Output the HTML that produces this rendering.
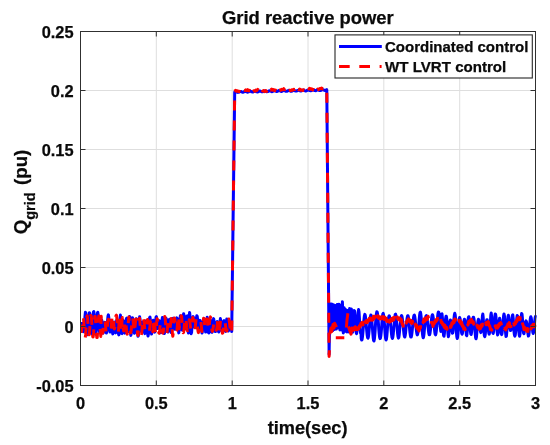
<!DOCTYPE html>
<html><head><meta charset="utf-8"><title>Grid reactive power</title>
<style>html,body{margin:0;padding:0;background:#fff}body{width:550px;height:445px;overflow:hidden}svg{display:block}text{font-family:"Liberation Sans",sans-serif;font-weight:bold;fill:#0a0a0a;stroke:#0a0a0a;stroke-width:0.25px}</style></head><body>
<svg width="550" height="445" viewBox="0 0 550 445">
<rect x="0" y="0" width="550" height="445" fill="#fff"/>
<g stroke="#dedede" stroke-width="1" fill="none"><line x1="156.3" y1="31.5" x2="156.3" y2="385.5"/><line x1="232.2" y1="31.5" x2="232.2" y2="385.5"/><line x1="308.0" y1="31.5" x2="308.0" y2="385.5"/><line x1="383.8" y1="31.5" x2="383.8" y2="385.5"/><line x1="459.7" y1="31.5" x2="459.7" y2="385.5"/><line x1="80.5" y1="326.5" x2="535.5" y2="326.5"/><line x1="80.5" y1="267.5" x2="535.5" y2="267.5"/><line x1="80.5" y1="208.5" x2="535.5" y2="208.5"/><line x1="80.5" y1="149.5" x2="535.5" y2="149.5"/><line x1="80.5" y1="90.5" x2="535.5" y2="90.5"/></g>
<clipPath id="cp"><rect x="80.5" y="31.5" width="456.2" height="354.0"/></clipPath>
<g clip-path="url(#cp)" fill="none" stroke-linejoin="round">
<polyline stroke="#0000ff" stroke-width="3.0" points="80.8,327.5 81.6,323.5 82.4,329.5 82.6,323.5 83.0,328.8 83.4,331.7 83.8,331.2 84.2,327.5 84.6,322.8 85.0,316.2 85.4,312.3 85.8,312.7 86.2,317.1 86.6,324.1 87.0,331.0 87.4,334.8 87.8,333.8 88.2,328.5 88.6,320.9 89.0,315.4 89.4,312.7 89.8,313.6 90.2,318.0 90.6,323.4 91.0,329.8 91.4,333.4 91.8,332.9 92.2,328.6 92.6,321.9 93.0,316.4 93.4,312.1 93.8,311.5 94.2,314.8 94.6,320.8 95.0,328.0 95.4,333.1 95.8,334.2 96.2,330.8 96.6,324.2 97.0,317.1 97.4,313.0 97.8,312.3 98.2,315.3 98.6,320.8 99.0,327.6 99.4,331.7 99.8,332.5 100.2,329.6 100.6,324.2 101.2,323.1 101.6,319.7 102.0,320.9 102.4,326.1 102.8,331.7 103.2,333.1 103.6,329.6 104.0,325.4 104.4,322.9 104.8,322.3 105.2,323.9 105.6,325.0 106.0,330.5 106.4,333.1 106.8,331.5 107.2,326.6 107.6,320.5 108.0,316.0 108.4,314.8 108.8,317.4 109.2,322.7 109.6,327.8 110.0,332.0 110.4,329.0 110.8,324.1 111.2,320.5 111.6,321.4 112.0,326.0 112.4,331.9 112.8,333.9 113.2,330.1 113.6,325.2 114.0,321.9 114.4,322.3 114.8,326.1 115.2,331.7 115.6,332.9 116.0,327.6 116.4,322.2 116.8,320.1 117.2,320.6 117.6,323.5 118.0,328.5 118.4,333.3 118.8,334.9 119.2,332.4 119.6,327.3 120.0,318.4 120.4,315.1 120.8,318.4 121.2,326.3 121.6,333.3 122.0,333.6 122.4,326.8 122.8,321.5 123.2,320.4 123.6,322.2 124.0,328.5 124.4,331.8 124.8,333.1 125.2,332.0 125.6,328.9 126.0,323.1 126.4,318.5 126.8,318.1 127.2,322.1 127.6,327.3 128.0,331.6 128.4,331.6 128.8,327.3 129.2,319.3 129.6,316.4 130.0,321.0 130.4,331.0 130.8,335.4 131.2,334.0 131.6,327.8 132.0,320.3 132.4,317.7 132.8,318.3 133.2,321.8 133.6,327.7 134.0,331.4 134.4,333.2 134.8,332.5 135.2,329.5 135.6,324.6 136.0,320.3 136.4,318.7 136.8,320.5 137.2,324.8 137.6,331.0 138.0,336.3 138.4,335.6 138.8,329.2 139.2,321.0 139.6,316.8 140.0,319.0 140.4,326.0 140.8,329.3 141.2,331.1 141.6,329.4 142.0,325.1 142.4,323.2 142.8,322.0 143.2,322.4 143.6,324.5 144.0,328.1 144.4,332.3 144.8,333.6 145.2,331.4 145.6,326.7 146.0,323.6 146.4,320.7 146.8,322.6 147.2,328.5 147.6,333.8 148.0,336.1 148.4,334.3 148.8,329.3 149.2,321.7 149.6,317.7 150.0,317.1 150.4,320.1 150.8,326.0 151.2,332.2 151.6,334.1 152.0,330.3 152.4,324.7 152.8,321.2 153.2,320.2 153.6,322.2 154.0,325.0 154.4,330.4 154.8,332.1 155.2,328.8 155.6,323.0 156.0,317.1 156.4,316.6 156.8,321.9 157.2,326.2 157.6,328.4 158.0,327.7 158.4,324.5 158.8,322.6 159.2,320.6 159.6,321.3 160.0,324.5 160.4,328.2 160.8,332.8 161.2,332.4 161.6,327.1 162.0,320.4 162.4,317.5 162.8,317.8 163.2,321.0 163.6,325.4 164.0,331.8 164.4,333.6 164.8,329.8 165.2,324.3 165.6,320.3 166.0,318.3 166.4,319.0 166.8,322.1 167.2,326.2 167.6,330.7 168.0,332.0 168.4,329.4 168.8,325.4 169.2,321.0 169.6,319.2 170.0,320.9 170.4,325.2 170.8,329.1 171.2,332.6 171.6,332.3 172.0,328.2 172.4,324.7 172.8,319.6 173.2,318.2 173.6,321.4 174.0,324.8 174.4,327.9 174.8,329.3 175.2,328.4 175.6,325.7 176.0,323.0 176.4,319.5 176.8,317.9 177.2,318.7 177.6,321.6 178.0,325.0 178.4,331.0 178.8,332.9 179.2,329.6 179.6,323.8 180.0,318.2 180.4,315.7 180.8,317.7 181.2,323.1 181.6,328.2 182.0,330.0 182.4,328.1 182.8,320.7 183.2,315.8 183.6,313.7 184.0,315.2 184.4,319.8 184.8,325.6 185.2,328.1 185.6,328.8 186.0,327.3 186.4,322.6 186.8,316.2 187.2,315.9 187.6,322.0 188.0,331.1 188.4,333.0 188.8,327.7 189.2,316.6 189.6,312.5 190.0,315.6 190.4,324.9 190.8,330.8 191.2,333.7 191.6,332.3 192.0,327.2 192.4,321.3 192.8,317.9 193.2,316.6 193.6,318.1 194.0,321.6 194.4,324.9 194.8,327.2 195.2,327.7 195.6,326.1 196.0,323.0 196.4,318.4 196.8,315.8 197.2,316.1 197.6,319.3 198.0,325.4 198.4,329.9 198.8,330.1 199.2,326.0 199.6,321.6 200.0,320.4 200.4,321.0 200.8,323.0 201.2,325.0 201.6,330.5 202.0,333.0 202.4,331.5 202.8,326.6 203.2,322.2 203.6,319.7 204.0,318.8 204.4,319.7 204.8,322.2 205.2,326.3 205.6,332.1 206.0,331.6 206.4,325.2 206.8,319.7 207.2,317.3 207.6,320.7 208.0,326.4 208.4,332.4 208.8,333.0 209.2,327.7 209.6,321.7 210.0,319.6 210.4,319.9 210.8,322.3 211.2,328.6 211.6,332.1 212.0,332.3 212.4,329.3 212.8,325.3 213.2,320.5 213.6,318.6 214.0,320.6 214.4,325.5 214.8,328.9 215.2,331.6 215.6,331.6 216.0,328.9 216.4,325.9 216.8,322.3 217.2,321.6 217.6,324.2 218.0,328.9 218.4,331.5 218.8,331.9 219.2,330.1 219.6,326.8 220.0,321.4 220.4,318.6 220.8,321.7 221.2,326.6 221.6,329.9 222.0,331.1 222.4,330.0 222.8,326.8 223.2,324.0 223.6,321.0 224.0,320.6 224.4,323.1 224.8,327.6 225.2,330.8 225.6,331.3 226.0,328.6 226.4,323.2 226.8,319.0 227.2,320.7 227.6,325.5 228.0,329.8 228.4,331.0 228.8,328.5 229.2,326.4 229.6,323.3 230.0,321.7 230.4,322.1 230.8,324.5 231.2,326.9 231.7,331.5 234.7,92.0 235.7,91.5 236.7,91.9 237.7,92.4 238.7,92.2 239.7,91.6 240.7,91.4 241.7,91.9 242.7,92.3 243.7,92.0 244.7,91.4 245.7,91.3 246.7,91.9 247.7,92.2 248.7,91.8 249.7,91.2 250.7,91.3 251.7,91.9 252.7,92.1 253.7,91.6 254.7,91.1 255.7,91.3 256.7,91.8 257.7,92.0 258.7,91.4 259.7,91.0 260.7,91.2 261.7,91.8 262.7,91.8 263.7,91.2 264.7,90.9 265.7,91.2 266.7,91.8 267.7,91.6 268.7,91.0 269.7,90.8 270.7,91.2 271.7,91.7 272.7,91.4 273.7,90.8 274.7,90.7 275.7,91.2 276.7,91.6 277.7,91.2 278.7,90.6 279.7,90.7 280.7,91.2 281.7,91.5 282.7,91.0 283.7,90.5 284.7,90.6 285.7,91.2 286.7,91.3 287.7,90.8 288.7,90.3 289.7,90.6 290.7,91.2 291.7,91.2 292.7,90.6 293.7,90.2 294.7,90.6 295.7,91.1 296.7,91.0 297.7,90.4 298.7,90.1 299.7,90.6 300.7,91.1 301.7,90.8 302.7,90.2 303.7,90.1 304.7,90.6 305.7,91.0 306.7,90.6 307.7,90.0 308.7,90.0 309.7,90.6 310.7,90.8 311.7,90.4 312.7,89.8 313.7,90.0 314.7,90.6 315.7,90.7 316.7,90.1 317.7,89.7 318.7,90.0 319.7,90.6 320.7,90.5 321.7,89.9 322.7,89.6 323.7,90.0 324.7,90.5 325.7,90.3 326.7,89.7 326.8,90.0 329.1,354.5 330.0,303.8 330.9,330.5 331.8,303.9 332.7,330.7 333.6,304.7 334.5,329.4 335.4,305.5 336.3,329.1 337.2,304.5 338.1,327.8 339.0,304.2 339.9,330.0 340.8,305.3 341.7,330.1 342.4,301.8 343.3,333.0 344.2,307.8 345.1,331.2 346.0,309.7 346.9,332.0 347.8,310.4 348.7,331.9 349.6,308.5 350.5,330.6 351.4,309.0 352.3,330.8 352.6,332.2 353.0,327.6 353.4,320.1 353.8,314.1 354.2,310.6 354.6,310.9 355.0,314.8 355.4,321.1 355.8,328.3 356.2,332.7 356.6,333.6 357.0,330.6 357.4,324.8 357.8,318.5 358.2,312.2 358.6,309.6 359.0,311.7 359.4,317.7 359.8,324.6 360.2,330.5 360.6,333.4 361.0,332.2 361.2,338.3 361.6,340.0 362.0,339.7 362.4,337.4 362.8,333.6 363.2,328.8 363.6,323.8 364.0,319.2 364.4,315.8 364.8,314.4 365.2,315.0 365.6,317.7 366.0,321.9 366.4,326.8 366.8,331.4 367.2,335.3 367.6,337.6 368.0,338.2 368.4,336.8 368.8,333.7 369.2,329.5 369.6,325.2 370.0,320.3 370.4,316.6 370.8,315.0 371.2,315.5 371.6,318.3 372.0,322.6 372.4,327.3 372.8,333.1 373.2,337.7 373.6,340.5 374.0,340.9 374.4,339.0 374.8,335.0 375.2,329.6 375.6,322.7 376.0,317.6 376.4,313.8 376.8,311.8 377.2,311.9 377.6,314.1 378.0,318.0 378.4,323.1 378.8,329.6 379.2,333.9 379.6,337.1 380.0,338.6 380.4,338.3 380.8,336.0 381.2,332.4 381.6,327.9 382.0,321.2 382.4,316.8 382.8,314.1 383.2,313.4 383.6,315.0 384.0,318.5 384.4,323.2 384.8,329.5 385.2,334.7 385.6,338.4 386.0,340.0 386.4,339.3 386.8,336.3 387.2,331.6 387.6,326.2 388.0,322.1 388.4,318.6 388.8,316.4 389.2,315.7 389.6,316.6 390.0,319.0 390.4,322.5 390.8,325.9 391.2,330.8 391.6,334.8 392.0,337.5 392.4,338.4 392.8,337.4 393.2,334.6 393.6,330.4 394.0,325.5 394.4,320.7 394.8,316.9 395.2,314.5 395.6,314.2 396.0,315.9 396.4,319.3 396.8,323.9 397.2,329.1 397.6,333.6 398.0,336.7 398.4,338.1 398.8,337.4 399.2,334.9 399.6,330.8 400.0,325.9 400.4,322.6 400.8,318.8 401.2,316.3 401.6,315.5 402.0,316.4 402.4,319.0 402.8,322.8 403.2,326.1 403.6,330.6 404.0,334.3 404.4,336.5 404.8,337.0 405.2,335.6 405.6,332.6 406.0,328.4 406.4,324.4 406.8,320.5 407.2,317.5 407.6,315.8 408.0,315.7 408.4,317.2 408.8,320.0 409.2,323.8 409.6,329.0 410.0,332.8 410.4,335.6 410.8,337.1 411.2,337.1 411.6,335.5 412.0,332.5 412.4,328.7 412.8,324.3 413.2,320.3 413.6,317.1 414.0,315.3 414.4,315.1 414.8,316.6 415.2,319.4 415.6,323.2 416.0,326.6 416.4,330.5 416.8,333.4 417.2,334.9 417.6,334.5 418.0,332.5 418.4,329.1 418.8,325.0 419.2,319.4 419.6,315.3 420.0,312.7 420.4,312.2 420.8,313.8 421.2,317.3 421.6,322.0 422.0,328.5 422.4,333.2 422.8,336.4 423.2,337.8 423.6,336.9 424.0,334.1 424.4,329.7 424.8,324.8 425.2,321.0 425.6,317.9 426.0,316.0 426.4,315.6 426.8,316.7 427.2,319.2 427.6,322.6 428.0,326.5 428.4,330.3 428.8,333.2 429.2,334.8 429.6,334.8 430.0,333.3 430.4,330.4 430.8,326.7 431.2,322.1 431.6,318.5 432.0,315.8 432.4,314.7 432.8,315.3 433.2,317.5 433.6,320.9 434.0,323.8 434.4,328.4 434.8,332.2 435.2,334.4 435.6,334.9 436.0,333.4 436.4,330.2 436.8,325.9 437.2,321.1 437.6,316.8 438.0,313.5 438.4,312.0 438.8,312.4 439.2,314.7 439.6,318.5 440.0,324.5 440.4,328.2 440.8,331.4 441.2,318.2 441.6,314.0 442.0,313.8 442.4,317.6 442.8,324.2 443.2,331.7 443.6,335.6 444.0,336.3 444.4,333.5 444.8,328.2 445.2,322.8 445.6,318.5 446.0,316.2 446.4,316.4 446.8,319.0 447.2,323.5 447.6,328.5 448.0,334.1 448.4,336.7 448.8,335.1 449.2,330.1 449.6,324.4 450.0,321.4 450.4,320.0 450.8,320.6 451.2,323.0 451.6,326.8 452.0,330.9 452.4,333.3 452.8,332.9 453.2,330.0 453.6,323.7 454.0,318.4 454.4,314.6 454.8,313.3 455.2,314.8 455.6,318.8 456.0,324.2 456.4,332.3 456.8,336.6 457.2,338.5 457.6,337.4 458.0,333.7 458.4,328.2 458.8,322.9 459.2,319.2 459.6,317.5 460.0,318.3 460.4,321.3 460.8,325.7 461.2,329.5 461.6,332.8 462.0,334.2 462.4,333.5 462.8,330.7 463.2,326.7 463.6,323.2 464.0,320.5 464.4,319.2 464.8,319.7 465.2,322.0 465.6,325.3 466.0,330.7 466.4,335.3 466.8,335.7 467.2,331.8 467.6,324.8 468.0,320.5 468.4,317.5 468.8,316.7 469.2,318.1 469.6,321.5 470.0,327.1 470.4,331.3 470.8,334.0 471.2,334.4 471.6,332.3 472.0,328.4 472.4,322.0 472.8,319.0 473.2,317.3 473.6,317.3 474.0,318.9 474.4,321.9 474.8,328.0 475.2,333.5 475.6,337.5 476.0,338.8 476.4,337.3 476.8,333.2 477.2,327.6 477.6,323.4 478.0,320.7 478.4,319.3 478.8,319.7 479.2,321.8 479.6,325.0 480.0,327.8 480.4,331.2 480.8,332.6 481.2,331.5 481.6,328.3 482.0,322.4 482.4,316.0 482.8,314.0 483.2,317.3 483.6,324.4 484.0,332.6 484.4,335.9 484.8,336.7 485.2,335.0 485.6,331.1 486.0,325.3 486.4,321.8 486.8,319.7 487.2,319.7 487.6,321.8 488.0,325.3 488.4,329.7 488.8,333.2 489.2,334.2 489.6,332.4 490.0,328.4 490.4,322.2 490.8,315.3 491.2,312.9 491.6,316.1 492.0,323.5 492.4,329.9 492.8,332.8 493.2,333.4 493.6,331.5 494.0,327.6 494.4,321.3 494.8,316.6 495.2,314.0 495.6,314.1 496.0,317.0 496.4,321.9 496.8,327.8 497.2,332.6 497.6,334.9 498.0,333.9 498.4,329.9 498.8,325.0 499.2,320.4 499.6,318.2 500.0,319.7 500.4,324.1 500.8,329.8 501.2,333.2 501.6,334.6 502.0,333.6 502.4,330.6 502.8,326.3 503.2,320.8 503.6,315.8 504.0,313.9 504.4,315.6 504.8,320.4 505.2,326.3 505.6,332.8 506.0,336.5 506.4,336.1 506.8,331.9 507.2,325.2 507.6,320.5 508.0,316.5 508.4,315.2 508.8,317.2 509.2,321.8 509.6,325.5 510.0,328.7 510.4,330.5 510.8,330.4 511.2,328.4 511.6,325.1 512.0,319.3 512.4,315.3 512.8,314.9 513.2,318.2 513.6,324.0 514.0,331.5 514.4,334.8 514.8,336.2 515.2,335.3 515.6,332.5 516.0,328.3 516.4,323.0 516.8,318.0 517.2,315.5 517.6,316.1 518.0,319.7 518.4,325.1 518.8,330.6 519.2,334.9 519.6,336.2 520.0,334.2 520.4,329.5 520.8,322.6 521.2,316.8 521.6,313.6 522.0,314.0 522.4,318.0 522.8,324.2 523.2,329.9 523.6,333.4 524.0,333.7 524.4,330.7 524.8,326.5 525.2,323.7 525.6,321.7 526.0,320.9 526.4,321.5 526.8,323.4 527.2,326.0 527.6,329.9 528.0,334.1 528.4,336.1 528.8,335.3 529.2,331.9 529.6,326.9 530.0,321.5 530.4,318.1 530.8,316.7 531.2,317.7 531.6,320.7 532.0,325.1 532.4,328.9 532.8,332.3 533.2,333.5 533.6,332.2 534.0,328.8 534.4,325.1 534.8,320.6 535.2,317.4 535.6,316.4 536.0,317.8"/>
<g stroke="#ff0000" stroke-width="3.0" stroke-dasharray="10 10">
<polyline points="80.8,328.5 81.4,331.5 82.2,322.5 82.4,321.8 82.8,317.5 83.2,316.5 83.6,319.2 84.0,324.8 84.4,330.8 84.8,336.2 85.2,337.8 85.6,334.9 86.0,328.7 86.4,321.5 86.8,316.8 87.2,315.8 87.6,318.7 88.0,324.5 88.4,330.9 88.8,334.8 89.2,334.8 89.6,331.1 90.0,325.1 90.4,319.1 90.8,315.6 91.2,315.8 91.6,319.7 92.0,325.9 92.4,332.6 92.8,336.9 93.2,336.9 93.6,332.7 94.0,326.4 94.4,320.2 94.8,316.5 95.2,316.5 95.6,320.3 96.0,326.6 96.4,332.8 96.8,337.6 97.2,337.6 97.6,332.6 98.0,325.8 98.4,319.6 98.8,315.9 99.2,316.1 99.6,320.1 100.0,326.5 100.4,332.2 100.8,336.4 101.2,316.3 101.6,322.2 102.0,329.6 102.4,332.9 102.8,333.1 103.2,329.9 103.6,324.0 104.0,321.3 104.4,319.8 104.8,320.1 105.2,322.1 105.6,326.6 106.0,331.4 106.4,333.9 106.8,333.1 107.2,329.4 107.6,325.1 108.0,321.5 108.4,319.3 108.8,319.4 109.2,321.6 109.6,325.3 110.0,327.4 110.4,329.8 110.8,329.9 111.2,327.8 111.6,322.5 112.0,317.9 112.4,315.1 112.8,315.1 113.2,317.8 113.6,322.4 114.0,326.5 114.4,328.9 114.8,327.9 115.2,323.8 115.6,318.9 116.0,315.6 116.4,315.1 116.8,317.5 117.2,322.1 117.6,328.2 118.0,332.3 118.4,331.9 118.8,327.2 119.2,318.8 119.6,315.3 120.0,317.7 120.4,325.8 120.8,332.0 121.2,332.9 121.6,327.9 122.0,320.8 122.4,317.4 122.8,320.8 123.2,326.6 123.6,330.9 124.0,329.8 124.4,325.7 124.8,321.8 125.2,319.9 125.6,321.0 126.0,324.4 126.4,328.7 126.8,333.1 127.2,334.2 127.6,331.6 128.0,326.3 128.4,321.6 128.8,317.1 129.2,319.5 129.6,327.3 130.0,330.9 130.4,332.9 130.8,332.7 131.2,330.3 131.6,326.6 132.0,321.0 132.4,316.9 132.8,317.3 133.2,322.0 133.6,326.8 134.0,331.8 134.4,332.9 134.8,329.7 135.2,324.5 135.6,320.8 136.0,319.1 136.4,320.2 136.8,323.6 137.2,328.8 137.6,334.6 138.0,335.5 138.4,331.1 138.8,322.7 139.2,318.5 139.6,318.3 140.0,322.3 140.4,331.1 140.8,334.3 141.2,335.2 141.6,333.5 142.0,329.8 142.4,323.7 142.8,319.2 143.2,317.2 143.6,318.3 144.0,322.2 144.4,325.8 144.8,329.3 145.2,331.4 145.6,331.5 146.0,329.4 146.4,326.0 146.8,323.6 147.2,319.6 147.6,319.5 148.0,323.4 148.4,327.2 148.8,331.6 149.2,332.5 149.6,329.3 150.0,325.9 150.4,322.6 150.8,320.9 151.2,321.4 151.6,323.9 152.0,326.0 152.4,330.7 152.8,331.9 153.2,328.7 153.6,322.2 154.0,317.8 154.4,318.8 154.8,324.4 155.2,331.3 155.6,334.0 156.0,332.2 156.4,327.0 156.8,321.3 157.2,318.8 157.6,319.9 158.0,324.2 158.4,329.7 158.8,332.9 159.2,333.3 159.6,330.5 160.0,326.6 160.4,323.5 160.8,322.1 161.2,323.0 161.6,325.7 162.0,329.1 162.4,331.9 162.8,333.1 163.2,332.1 163.6,329.3 164.0,323.3 164.4,318.3 164.8,316.4 165.2,318.5 165.6,323.6 166.0,330.1 166.4,333.6 166.8,333.9 167.2,330.9 167.6,325.9 168.0,322.5 168.4,322.5 168.8,326.0 169.2,328.4 169.6,329.6 170.0,328.4 170.4,325.5 170.8,322.6 171.2,318.6 171.6,321.1 172.0,327.0 172.4,333.7 172.8,336.3 173.2,333.4 173.6,326.5 174.0,320.6 174.4,317.9 174.8,318.7 175.2,322.8 175.6,326.4 176.0,330.1 176.4,331.7 176.8,330.8 177.2,327.6 177.6,322.6 178.0,316.5 178.4,315.4 178.8,320.1 179.2,326.3 179.6,328.8 180.0,328.5 180.4,325.6 180.8,319.5 181.2,315.8 181.6,316.4 182.0,321.0 182.4,326.1 182.8,330.5 183.2,332.8 183.6,332.3 184.0,329.1 184.4,324.2 184.8,320.3 185.2,317.5 185.6,317.1 186.0,319.4 186.4,323.4 186.8,327.4 187.2,330.4 187.6,330.6 188.0,327.8 188.4,325.9 188.8,321.9 189.2,319.7 189.6,320.3 190.0,323.4 190.4,326.6 190.8,329.7 191.2,330.3 191.6,328.0 192.0,323.5 192.4,319.3 192.8,317.4 193.2,318.5 193.6,322.3 194.0,325.6 194.4,329.9 194.8,330.7 195.2,327.4 195.6,323.9 196.0,319.8 196.4,318.0 196.8,319.4 197.2,323.4 197.6,327.4 198.0,331.2 198.4,332.6 198.8,331.0 199.2,327.1 199.6,323.2 200.0,321.0 200.4,320.5 200.8,321.9 201.2,324.5 201.6,328.6 202.0,331.5 202.4,330.5 202.8,326.3 203.2,320.9 203.6,318.2 204.0,319.0 204.4,322.8 204.8,326.0 205.2,328.5 205.6,327.6 206.0,324.1 206.4,320.5 206.8,318.9 207.2,319.8 207.6,322.9 208.0,326.7 208.4,330.0 208.8,330.1 209.2,326.9 209.6,321.3 210.0,318.0 210.4,316.9 210.8,318.5 211.2,322.1 211.6,327.7 212.0,330.4 212.4,331.4 212.8,330.3 213.2,327.4 213.6,325.3 214.0,323.2 214.4,322.1 214.8,322.4 215.2,324.0 215.6,326.3 216.0,327.9 216.4,330.2 216.8,328.7 217.2,325.6 217.6,319.5 218.0,319.5 218.4,325.6 218.8,327.6 219.2,329.0 219.6,327.6 220.0,326.1 220.4,321.6 220.8,320.0 221.2,322.3 221.6,327.0 222.0,331.0 222.4,333.2 222.8,333.0 223.2,330.2 223.6,325.6 224.0,322.5 224.4,320.7 224.8,320.8 225.2,322.9 225.6,326.1 226.0,328.9 226.4,330.7 226.8,331.0 227.2,329.6 227.6,327.2 228.0,323.6 228.4,320.2 228.8,319.0 229.2,320.3 229.6,323.7 230.0,327.6 230.4,331.6 230.8,332.7 231.2,330.3"/>
<polyline stroke-dashoffset="11.5" points="234.7,92.0 231.7,332.5"/>
<polyline stroke-dasharray="7.5 4.5" stroke-dashoffset="0" points="234.2,91.2 235.7,90.4 236.7,91.3 237.7,90.8 238.7,91.8 239.7,91.3 240.7,91.8 241.7,90.9 242.7,91.3 243.7,90.3 244.7,90.6 245.7,89.8 246.7,90.6 247.7,89.7 248.7,90.8 249.7,90.3 250.7,91.5 251.7,90.8 252.7,91.8 253.7,90.7 254.7,91.3 255.7,90.1 256.7,90.6 257.7,89.4 258.7,90.2 259.7,89.3 260.7,90.5 261.7,89.8 262.7,91.0 263.7,90.5 264.7,91.6 265.7,90.5 266.7,91.3 267.7,89.9 268.7,90.4 269.7,89.4 270.7,90.1 271.7,89.0 272.7,90.1 273.7,89.5 274.7,90.6 275.7,90.1 276.7,91.1 277.7,90.4 278.7,91.0 279.7,89.9 280.7,90.3 281.7,89.2 282.7,89.8 283.7,88.7 284.7,89.6 285.7,89.0 286.7,90.2 287.7,89.7 288.7,90.6 289.7,90.2 290.7,90.8 291.7,89.8 292.7,90.3 293.7,89.3 294.7,89.6 295.7,88.6 296.7,89.4 297.7,88.6 298.7,89.7 299.7,89.1 300.7,90.2 301.7,89.8 302.7,90.5 303.7,89.8 304.7,90.3 305.7,89.1 306.7,89.5 307.7,88.5 308.7,89.0 309.7,88.4 310.7,89.3 311.7,88.8 312.7,89.9 313.7,89.4 314.7,90.3 315.7,89.5 316.7,90.2 317.7,89.1 318.7,89.6 319.7,88.4 320.7,88.8 321.7,88.0 322.7,88.9 323.7,88.4 324.7,89.3 325.7,88.9 326.8,90.0"/>
<polyline stroke-dashoffset="17.2" points="326.8,90.0 329.1,356.5 329.4,349.5"/>
<polyline stroke-dasharray="none" points="329.9,334.0 331.0,328.0 331.8,331.5 333.0,324.5 334.0,328.0 334.6,323.2 336.5,327.2"/>
<polyline stroke-dasharray="none" points="335.8,337.7 344.3,337.7"/>
<polyline stroke-dasharray="none" points="346.4,327.5 347.0,320.0 347.9,313.2"/>
<polyline stroke-dasharray="none" points="348.4,326.5 351.0,334.2 351.8,328.0 352.5,329.5"/>
<polyline stroke-dasharray="34 5" points="352.5,328.4 353.2,330.3 353.9,327.7 354.6,329.5 355.3,326.7 356.0,329.4 356.7,327.6 357.4,329.7 358.1,328.3 358.8,328.8 359.5,325.7 360.2,326.4 360.9,323.4 361.6,324.8 362.3,322.3 363.0,324.9 363.7,323.2 364.4,324.7 365.1,321.7 365.8,322.8 366.5,320.5 367.2,322.5 367.9,320.0 368.6,321.1 369.3,318.4 370.0,320.1 370.7,318.1 371.4,320.1 372.1,318.4 372.8,320.1 373.5,316.3 374.2,318.7 374.9,316.3 375.6,319.5 376.3,317.1 377.0,318.3 377.7,315.8 378.4,318.2 379.1,316.6 379.8,318.9 380.5,317.1 381.2,319.0 381.9,316.9 382.6,318.5 383.3,316.6 384.0,319.4 384.7,317.2 385.4,319.6 386.1,318.2 386.8,321.3 387.5,320.4 388.2,323.2"/>
<polyline stroke-dasharray="22 8" points="388.2,323.2 388.9,320.9 389.6,322.1 390.3,319.7 391.0,321.3 391.7,318.6 392.4,320.7 393.1,317.7 393.8,319.8 394.5,317.2 395.2,319.0 395.9,316.4 396.6,318.9 397.3,317.0 398.0,319.3 398.7,317.9 399.4,320.1 400.1,318.2 400.8,321.1 401.5,319.7 402.2,324.4 402.9,324.1 403.6,328.2 404.3,324.6 405.0,325.2 405.7,322.5 406.4,323.1 407.1,320.6 407.8,321.2 408.5,318.9 409.2,321.3 409.9,319.9 410.6,322.7 411.3,320.5 412.0,323.4 412.7,321.5 413.4,324.2 414.1,322.3 414.8,325.9 415.5,324.0 416.2,327.2 416.9,325.5 417.6,329.0 418.3,327.3 419.0,330.9 419.7,329.0 420.4,328.0 421.1,321.7 421.8,323.1 422.5,320.8 423.2,322.4 423.9,319.1 424.6,321.5 425.3,318.1 426.0,320.2 426.7,317.9 427.4,319.3 428.1,316.2 428.8,319.1 429.5,317.7 430.2,320.9 430.9,320.0 431.6,323.0 432.3,322.9 433.0,326.4 433.7,322.7 434.4,323.5 435.1,320.7 435.8,321.8 436.5,319.4 437.2,320.1 437.9,316.1 438.6,316.9 439.3,316.4 440.0,320.1 440.7,318.9 441.4,322.8 442.1,322.3 442.8,324.9 443.5,324.2 444.2,327.2 444.9,325.2 445.6,328.5 446.3,327.0 447.0,329.3 447.7,327.8 448.4,331.2 449.1,329.4 449.8,329.8 450.5,325.9 451.2,326.6 451.9,322.7 452.6,323.9 453.3,320.8 454.0,322.6 454.7,319.0 455.4,320.5 456.1,317.5 456.8,318.8 457.5,317.9 458.2,320.6 458.9,319.0 459.6,321.9 460.3,320.5 461.0,324.0 461.7,322.4 462.4,326.3 463.1,325.9 463.8,329.1 464.5,327.8 465.2,329.6 465.9,325.7 466.6,326.9 467.3,323.7 468.0,325.0 468.7,321.4 469.4,322.8 470.1,320.4 470.8,321.8 471.5,319.4 472.2,322.5 472.9,321.5 473.6,324.2 474.3,322.8 475.0,325.5 475.7,324.0 476.4,327.1 477.1,325.1 477.8,327.8 478.5,326.0 479.2,329.3 479.9,327.1 480.6,328.5 481.3,324.7 482.0,326.4 482.7,324.1 483.4,325.4 484.1,323.2 484.8,325.3 485.5,323.1 486.2,324.8 486.9,322.2 487.6,324.5 488.3,321.6 489.0,325.7 489.7,325.8 490.4,329.5 491.1,328.9 491.8,330.2 492.5,327.3 493.2,327.6 493.9,324.9 494.6,327.1 495.3,325.8 496.0,328.0 496.7,326.1 497.4,328.1 498.1,325.0 498.8,326.4 499.5,323.5 500.2,324.8 500.9,322.6 501.6,325.7 502.3,324.4 503.0,326.9 503.7,326.0 504.4,328.8 505.1,328.0 505.8,329.9 506.5,326.8 507.2,327.3 507.9,323.9 508.6,325.1 509.3,322.6 510.0,326.7 510.7,326.2 511.4,328.8 512.1,326.1 512.8,327.2 513.5,324.1 514.2,325.1 514.9,322.5 515.6,323.7 516.3,320.5 517.0,321.5 517.7,318.0 518.4,319.4 519.1,317.4 519.8,319.8 520.5,317.7 521.2,320.4 521.9,318.9 522.6,323.7 523.3,325.7 524.0,329.4 524.7,327.5 525.4,329.8 526.1,328.5 526.8,331.3 527.5,328.5 528.2,331.4 528.9,328.8 529.6,330.5 530.3,327.3 531.0,328.9 531.7,325.8 532.4,327.1 533.1,324.3 533.8,326.8 534.5,324.4 535.2,327.0"/>
</g></g>
<g stroke="#303030" stroke-width="1" fill="none"><rect x="80.5" y="31.5" width="455.0" height="354.0"/><line x1="80.5" y1="385.5" x2="80.5" y2="380.5"/><line x1="80.5" y1="31.5" x2="80.5" y2="36.5"/><line x1="156.3" y1="385.5" x2="156.3" y2="380.5"/><line x1="156.3" y1="31.5" x2="156.3" y2="36.5"/><line x1="232.2" y1="385.5" x2="232.2" y2="380.5"/><line x1="232.2" y1="31.5" x2="232.2" y2="36.5"/><line x1="308.0" y1="385.5" x2="308.0" y2="380.5"/><line x1="308.0" y1="31.5" x2="308.0" y2="36.5"/><line x1="383.8" y1="385.5" x2="383.8" y2="380.5"/><line x1="383.8" y1="31.5" x2="383.8" y2="36.5"/><line x1="459.7" y1="385.5" x2="459.7" y2="380.5"/><line x1="459.7" y1="31.5" x2="459.7" y2="36.5"/><line x1="535.5" y1="385.5" x2="535.5" y2="380.5"/><line x1="535.5" y1="31.5" x2="535.5" y2="36.5"/><line x1="80.5" y1="385.5" x2="85.5" y2="385.5"/><line x1="535.5" y1="385.5" x2="530.5" y2="385.5"/><line x1="80.5" y1="326.5" x2="85.5" y2="326.5"/><line x1="535.5" y1="326.5" x2="530.5" y2="326.5"/><line x1="80.5" y1="267.5" x2="85.5" y2="267.5"/><line x1="535.5" y1="267.5" x2="530.5" y2="267.5"/><line x1="80.5" y1="208.5" x2="85.5" y2="208.5"/><line x1="535.5" y1="208.5" x2="530.5" y2="208.5"/><line x1="80.5" y1="149.5" x2="85.5" y2="149.5"/><line x1="535.5" y1="149.5" x2="530.5" y2="149.5"/><line x1="80.5" y1="90.5" x2="85.5" y2="90.5"/><line x1="535.5" y1="90.5" x2="530.5" y2="90.5"/><line x1="80.5" y1="31.5" x2="85.5" y2="31.5"/><line x1="535.5" y1="31.5" x2="530.5" y2="31.5"/></g>
<text x="80.5" y="408.8" font-size="16.4" text-anchor="middle">0</text>
<text x="156.3" y="408.8" font-size="16.4" text-anchor="middle">0.5</text>
<text x="232.2" y="408.8" font-size="16.4" text-anchor="middle">1</text>
<text x="308.0" y="408.8" font-size="16.4" text-anchor="middle">1.5</text>
<text x="383.8" y="408.8" font-size="16.4" text-anchor="middle">2</text>
<text x="459.7" y="408.8" font-size="16.4" text-anchor="middle">2.5</text>
<text x="535.5" y="408.8" font-size="16.4" text-anchor="middle">3</text>
<text x="73.6" y="391.7" font-size="16.4" text-anchor="end">-0.05</text>
<text x="73.6" y="332.7" font-size="16.4" text-anchor="end">0</text>
<text x="73.6" y="273.7" font-size="16.4" text-anchor="end">0.05</text>
<text x="73.6" y="214.7" font-size="16.4" text-anchor="end">0.1</text>
<text x="73.6" y="155.7" font-size="16.4" text-anchor="end">0.15</text>
<text x="73.6" y="96.7" font-size="16.4" text-anchor="end">0.2</text>
<text x="73.6" y="37.7" font-size="16.4" text-anchor="end">0.25</text>
<text x="307.85" y="24.1" font-size="18.4" text-anchor="middle">Grid reactive power</text>
<text x="307.6" y="433.8" font-size="18.2" text-anchor="middle">time(sec)</text>
<text transform="translate(27.4,234.3) rotate(-90)" font-size="18.7">Q<tspan font-size="14.5" dy="7.5">grid</tspan><tspan dy="-7.5" dx="2.2"> (pu)</tspan></text>
<rect x="335" y="34.9" width="197.3" height="43.1" fill="#fff" stroke="#262626" stroke-width="1.1"/>
<line x1="339" y1="46.45" x2="381.8" y2="46.45" stroke="#0000ff" stroke-width="3.0"/>
<line x1="339" y1="66.4" x2="381.6" y2="66.4" stroke="#ff0000" stroke-width="3.0" stroke-dasharray="10.7 9.6"/>
<text x="385" y="52.1" font-size="15">Coordinated control</text>
<text x="385" y="72.2" font-size="15.1">WT LVRT control</text>
</svg></body></html>
